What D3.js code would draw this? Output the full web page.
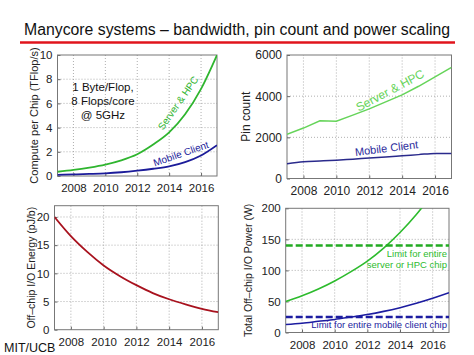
<!DOCTYPE html>
<html><head><meta charset="utf-8">
<script src="https://cdn.jsdelivr.net/npm/d3@7"></script>
<style>
html,body{margin:0;padding:0;background:#fff;}
svg{display:block;font-family:"Liberation Sans",Arial,Helvetica,sans-serif;}
</style></head>
<body>
<svg id="c" width="474" height="355"></svg>
<script>
const years = [2007,2008,2009,2010,2011,2012,2013,2014,2015,2016,2017];
const xTicks = [2008,2010,2012,2014,2016];
const computeServer = [0.35,0.5,0.7,0.95,1.3,1.8,2.6,3.6,5.1,7.2,10];
const computeMobile = [0.1,0.13,0.17,0.22,0.31,0.44,0.6,0.8,1.15,1.7,2.55];
const pinServer = [2150,2450,2800,2780,3080,3380,3720,4060,4480,4940,5400];
const pinMobile = [720,810,850,890,940,990,1040,1100,1160,1220,1220];
const ioEnergy = [20,16.6,13.8,11.4,9.5,7.9,6.5,5.4,4.5,3.7,3.1];
const ioPowerServer = [50,59,70,83,98,115,136,161,190,224,264];
const ioPowerMobile = [13,15,18,21,25,29,34,40,47,55,64];
const limitServer = 140, limitMobile = 25;
const computeTicks = [0,2,4,6,8,10];
const pinTicks = [0,2000,4000,6000];
const energyTicks = [0,5,10,15,20];
const powerTicks = [0,50,100,150,200];

const svg = d3.select("#c");

// title
svg.append("text").attr("x",24).attr("y",35).attr("font-size",16)
  .attr("textLength",426).attr("lengthAdjust","spacingAndGlyphs")
  .attr("fill","#111").text("Manycore systems – bandwidth, pin count and power scaling");
svg.append("line").attr("x1",20).attr("x2",455).attr("y1",42.5).attr("y2",42.5)
  .attr("stroke","#e0141c").attr("stroke-width",2.5);

let clipId = 0;
function panel(cfg){
  const x = d3.scaleLinear().domain([2007,2017]).range(cfg.xr);
  const y = d3.scaleLinear().domain(cfg.yd).range(cfg.yr);
  const g = svg.append("g");
  const [x0,x1] = cfg.xr, [y0,y1] = cfg.yr;
  // grid
  g.selectAll(".gx").data(xTicks).join("line")
    .attr("x1",d=>x(d)).attr("x2",d=>x(d)).attr("y1",y0).attr("y2",y1)
    .attr("stroke","#9a9a9a").attr("stroke-width",0.8).attr("stroke-dasharray","1,2");
  g.selectAll(".gy").data(cfg.yt.filter(v=>v>cfg.yd[0]&&v<cfg.yd[1])).join("line")
    .attr("x1",x0).attr("x2",x1).attr("y1",d=>y(d)).attr("y2",d=>y(d))
    .attr("stroke","#9a9a9a").attr("stroke-width",0.8).attr("stroke-dasharray","1,2");
  // axes (ticks inward)
  const ax = g.append("g").attr("transform",`translate(0,${y0})`)
    .call(d3.axisBottom(x).tickValues(xTicks).tickFormat(d3.format("d")).tickSizeInner(-3).tickSizeOuter(0).tickPadding(cfg.xpad));
  const ay = g.append("g").attr("transform",`translate(${x0},0)`)
    .call(d3.axisLeft(y).tickValues(cfg.yt).tickFormat(d3.format("d")).tickSizeInner(-3).tickSizeOuter(0).tickPadding(cfg.ypad));
  [ax,ay].forEach(a=>{
    a.select(".domain").remove();
    a.selectAll("line").attr("stroke","#666");
    a.selectAll("text").attr("font-size",cfg.fs).attr("fill","#222")
      .attr("font-family","'Liberation Sans',Arial,sans-serif");
  });
  g.append("rect").attr("x",x0).attr("y",y1).attr("width",x1-x0).attr("height",y0-y1)
    .attr("fill","none").attr("stroke","#777").attr("stroke-width",1);
  // y label
  g.append("text").attr("transform",`translate(${cfg.lx},${(y0+y1)/2}) rotate(-90)`)
    .attr("text-anchor","middle").attr("font-size",cfg.lfs).attr("fill","#222").text(cfg.label);
  const id = "clip"+(clipId++);
  svg.append("clipPath").attr("id",id).append("rect")
    .attr("x",x0).attr("y",y1).attr("width",x1-x0).attr("height",y0-y1);
  const lines = g.append("g").attr("clip-path",`url(#${id})`);
  return {x,y,g,lines};
}

function drawLine(p, vals, color, w, curve){
  const line = d3.line().x((d,i)=>p.x(years[i])).y(d=>p.y(d)).curve(curve||d3.curveMonotoneX);
  p.lines.append("path").datum(vals).attr("d",line).attr("fill","none")
    .attr("stroke",color).attr("stroke-width",w);
}
function rotLabel(p, txt, cx, cy, ang, color, fs){
  p.g.append("text").attr("transform",`translate(${cx},${cy}) rotate(${ang})`)
    .attr("text-anchor","middle").attr("font-size",fs).attr("fill",color).text(txt);
}

// Panel 1
const p1 = panel({xr:[57.5,217],yr:[176,55],yd:[0,10],yt:computeTicks,fs:11.5,lfs:11,
  xpad:8,ypad:5,lx:38,label:"Compute per Chip (TFlop/s)"});
drawLine(p1, computeServer, "#2fb52f", 1.8);
drawLine(p1, computeMobile, "#1c1c9a", 1.8);
rotLabel(p1,"Server & HPC",181,105,-55,"#2fb52f",10);
rotLabel(p1,"Mobile Client",182,157,-19,"#1c1c9a",10);
[["1 Byte/Flop,",91],["8 Flops/core",105],["@ 5GHz",119]].forEach(([t,yy])=>{
  p1.g.append("text").attr("x",103).attr("y",yy).attr("text-anchor","middle")
    .attr("font-size",11.5).attr("fill","#111").text(t);
});

// Panel 2
const p2 = panel({xr:[287,451.5],yr:[178.5,55],yd:[0,6000],yt:pinTicks,fs:12,lfs:12,
  xpad:8,ypad:5,lx:250,label:"Pin count"});
drawLine(p2, pinServer, "#66d45a", 1.5, d3.curveLinear);
drawLine(p2, pinMobile, "#2a2a8c", 1.5, d3.curveMonotoneX);
rotLabel(p2,"Server & HPC",392,94,-28,"#66d45a",12);
rotLabel(p2,"Mobile Client",387,152,-7,"#2a2a9c",11);

// Panel 3
const p3 = panel({xr:[54.5,218.3],yr:[329.7,205.7],yd:[0,22],yt:energyTicks,fs:11.5,lfs:10.5,
  xpad:8,ypad:5,lx:35,label:"Off–chip I/O Energy (pJ/b)"});
drawLine(p3, ioEnergy, "#a8121e", 1.8);

// Panel 4
const p4 = panel({xr:[285.7,449],yr:[332.5,208.3],yd:[0,200],yt:powerTicks,fs:11.5,lfs:10.5,
  xpad:8,ypad:5,lx:252,label:"Total Off–chip I/O Power (W)"});
drawLine(p4, ioPowerServer, "#2dbb2d", 1.6);
drawLine(p4, ioPowerMobile, "#1c1ca0", 1.6);
p4.lines.append("line").attr("x1",285.7).attr("x2",449).attr("y1",p4.y(limitServer)).attr("y2",p4.y(limitServer))
  .attr("stroke","#22aa22").attr("stroke-width",2.6).attr("stroke-dasharray","7,3");
p4.lines.append("line").attr("x1",285.7).attr("x2",449).attr("y1",p4.y(limitMobile)).attr("y2",p4.y(limitMobile))
  .attr("stroke","#1c1ca0").attr("stroke-width",2.6).attr("stroke-dasharray","7,3");
[["Limit for entire",257],["server or HPC chip",267.5]].forEach(([t,yy])=>{
  p4.g.append("text").attr("x",447).attr("y",yy).attr("text-anchor","end")
    .attr("font-size",9.5).attr("fill","#2dbb2d").text(t);
});
p4.g.append("text").attr("x",447).attr("y",328).attr("text-anchor","end")
  .attr("font-size",9.5).attr("fill","#1c1ca0").text("Limit for entire mobile client chip");

// footer
svg.append("text").attr("x",4).attr("y",352).attr("font-size",12.5).attr("fill","#111").text("MIT/UCB");
</script>
</body></html>
